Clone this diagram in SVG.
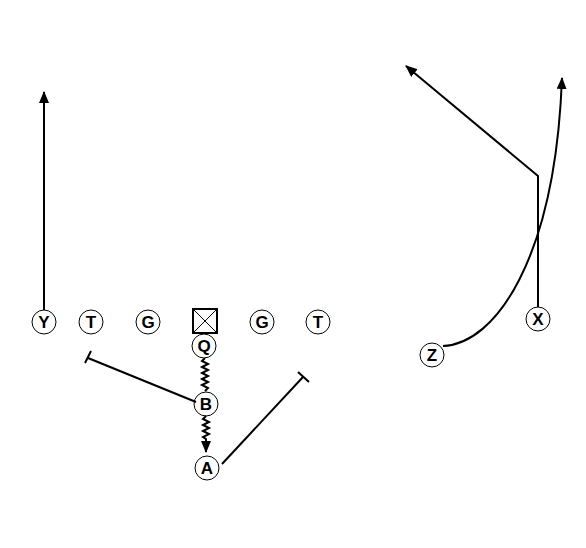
<svg xmlns="http://www.w3.org/2000/svg" width="586" height="548" viewBox="0 0 586 548">
<style>
.p circle{fill:#fff;stroke:#000;stroke-width:1}
.p text{font-family:"Liberation Sans",Arial,sans-serif;font-weight:bold;font-size:17px;text-anchor:middle;fill:#000}
.r{fill:none;stroke:#000;stroke-width:2}
</style>
<defs>
<marker id="ah" viewBox="0 0 12 10" refX="11" refY="5" markerWidth="12" markerHeight="10" markerUnits="userSpaceOnUse" orient="auto">
<path d="M0,0 L12,5 L0,10 Z" fill="#000"/>
</marker>
</defs>
<rect width="586" height="548" fill="#fff"/>
<g id="connectors">
<path class="r" d="M44,310 V92" marker-end="url(#ah)"/>
<path class="r" d="M538,307 V176 L406,66" marker-end="url(#ah)"/>
<path class="r" d="M443,346 C495,344 555,260 562,78" marker-end="url(#ah)"/>
<path class="r" d="M88,358 L196,402"/>
<path class="r" d="M85,363 L91,351"/>
<path class="r" d="M222,464 L303,377"/>
<path class="r" d="M298,372 L309,382"/>
<path class="r" d="M205,358 l-3,3 l6,3 l-6,3 l6,3 l-6,3 l6,3 l-6,3 l6,3 l-6,3 l6,3 l-3,3"/>
<path class="r" d="M206,416 l-3,3 l6,3 l-6,3 l6,3 l-6,3 l6,3 l-6,3 l3,2 V452" marker-end="url(#ah)"/>
</g>
<g id="center"><rect x="193" y="309" width="24" height="24" fill="#fff" stroke="#000" stroke-width="2"/><path d="M193,309 L217,333 M217,309 L193,333" stroke="#000" stroke-width="1"/></g>
<g id="Y" class="p"><circle cx="44" cy="322" r="12"/><text x="44" y="328">Y</text></g>
<g id="T1" class="p"><circle cx="91" cy="322" r="12"/><text x="91" y="328">T</text></g>
<g id="G1" class="p"><circle cx="148" cy="322" r="12"/><text x="148" y="328">G</text></g>
<g id="G2" class="p"><circle cx="262" cy="322" r="12"/><text x="262" y="328">G</text></g>
<g id="T2" class="p"><circle cx="318" cy="322" r="12"/><text x="318" y="328">T</text></g>
<g id="Q" class="p"><circle cx="204" cy="346" r="12"/><text x="204" y="352">Q</text></g>
<g id="B" class="p"><circle cx="206" cy="404" r="12" style="fill:none"/><text x="206" y="410">B</text></g>
<g id="A" class="p"><circle cx="207" cy="468" r="12"/><text x="207" y="474">A</text></g>
<g id="Z" class="p"><circle cx="432" cy="355" r="12"/><text x="432" y="361">Z</text></g>
<g id="X" class="p"><circle cx="538" cy="319" r="12"/><text x="538" y="325">X</text></g>
</svg>
